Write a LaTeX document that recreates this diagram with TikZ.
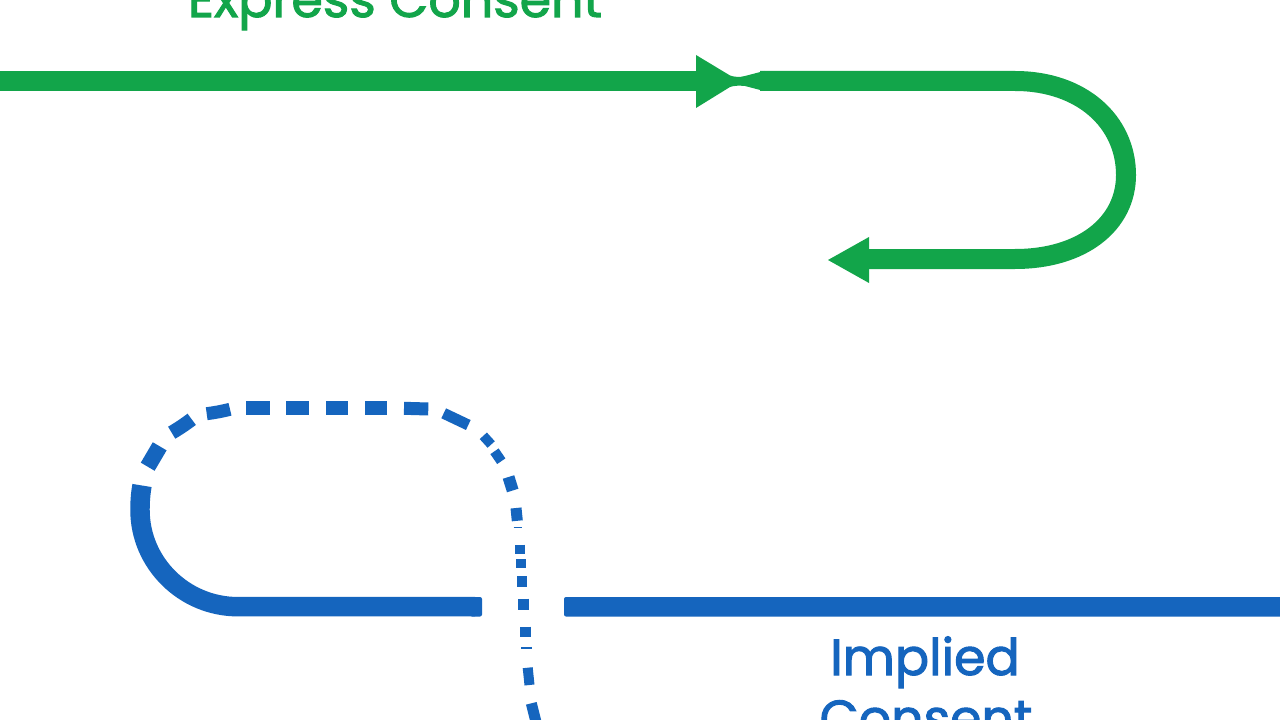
\documentclass[tikz,border=0pt]{standalone}
\usepackage{fontspec}
\newfontfamily\labfont[RawFeature={embolden=2}]{Poppins}
\definecolor{cgreen}{HTML}{12A54A}
\definecolor{cblue}{HTML}{1565BE}
\tikzset{
  px/.style={x=0.75pt,y=-0.75pt},
  greenline/.style={draw=cgreen,line width=15pt,line cap=butt},
  greenhead/.style={fill=cgreen,draw=none},
  blueline/.style={draw=cblue,line width=14.6pt,line cap=butt},
  bluebar/.style={fill=cblue,draw=none,rounded corners=1.5pt},
  bluedash/.style={draw=cblue,line cap=butt},
  lab/.style={inner sep=0pt,anchor=base,font=\labfont\fontsize{38}{38}\selectfont}
}
\begin{document}
\begin{tikzpicture}[px]
\useasboundingbox (0,0) rectangle (1280,720);
\clip (0,0) rectangle (1280,720);
\fill[white] (0,0) rectangle (1280,720);
% green route
\draw[greenline] (0,81) -- (700,81);
\fill[greenhead] (696,55) -- (730,75.5) .. controls (734,77) and (740,77.5) .. (745,76) -- (764,71)
  -- (764,91) -- (745,86) .. controls (740,85.5) and (734,85.5) .. (730,87) -- (696,108) -- cycle;
\draw[greenline] (760,81) -- (1015,81) .. controls (1082,81) and (1126,122) .. (1126,175)
  .. controls (1126,224) and (1082,259) .. (1015,259) -- (865,259);
\fill[greenhead] (828,260) -- (869,237) -- (869,283) -- cycle;
% blue route
\fill[bluebar] (564,597) rectangle (1290,616.5);
\fill[bluebar] (470,597) rectangle (482,616.5);
\draw[blueline] (475,606.7) -- (238,606.7) .. controls (184,606.7) and (140,563) .. (140,510)
  .. controls (140,502) and (140.5,494) .. (142,485.5);
\foreach \xa/\ya/\xb/\yb/\w/\b in {
  159.7/446.3/147.7/466.7/16/0,
  191.7/419.3/171.7/432.7/14/3,
  230/409.3/206.7/413.7/13/3,
  246/407.8/269.7/407.8/13.5/0,
  286.3/407.8/309/407.8/13.5/0,
  326/407.8/347.7/407.8/13.5/0,
  365/407.8/387/407.8/13.5/0,
  404/408.3/428.3/409/13/0,
  443.7/413.3/468.3/425/11/0,
  483.3/435.8/491.2/444.5/9.7/0,
  494.5/451.3/501.3/461.2/10/0,
  508.5/477/512.7/490.5/12/0,
  516/508/517.3/520.8/11/0,
  513.5/527.5/521.7/527.5/1.5/0,
  519.7/544.7/519.7/553.7/10/0,
  521/559/521/568.3/10/0,
  522/576.3/522/587.3/10/0,
  523.5/598.7/523.5/610/10.4/0,
  525.3/626.7/525.3/637.3/10.7/0,
  526.2/646.8/526.2/648.5/11/0,
  527.7/667.7/529.5/685/10/0,
  531.3/703.3/536/722/11/0}{
  \draw[bluedash,line width=\w*0.75pt] (\xa,\ya) to[bend left=\b] (\xb,\yb);
}
% labels
\node[lab,text=cgreen] (express) at (395,17) {Express Consent};
\node[lab,text=cblue] (implied) at (925,675) {Implied};
\node[lab,text=cblue] (consent) at (926,736) {Consent};
\end{tikzpicture}
\end{document}
